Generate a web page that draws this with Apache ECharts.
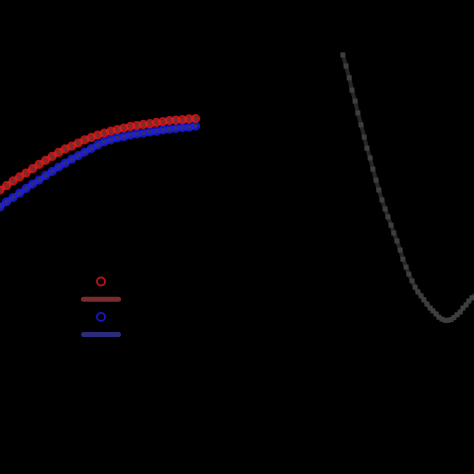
<!DOCTYPE html>
<html>
<head>
<meta charset="utf-8">
<script src="https://cdn.jsdelivr.net/npm/echarts@6/dist/echarts.min.js"></script>
<style>html,body{margin:0;padding:0;background:#000;}#c{width:474px;height:474px;}</style>
</head>
<body>
<div id="c"></div>
<script>
var xLeft = [0, 0.165, 0.33, 0.495, 0.66, 0.825, 0.99, 1.155, 1.32, 1.485, 1.65, 1.815, 1.98, 2.145, 2.31, 2.475, 2.64, 2.805, 2.97, 3.135, 3.3, 3.465, 3.63, 3.795, 3.96, 4.125, 4.29, 4.455, 4.62, 4.785, 4.95];
var redValues = [0.719, 0.730, 0.742, 0.752, 0.762, 0.773, 0.784, 0.794, 0.804, 0.814, 0.823, 0.830, 0.838, 0.846, 0.852, 0.858, 0.863, 0.868, 0.872, 0.876, 0.880, 0.882, 0.885, 0.887, 0.890, 0.892, 0.895, 0.896, 0.897, 0.899, 0.900];
var blueValues = [0.676, 0.689, 0.700, 0.711, 0.723, 0.734, 0.744, 0.756, 0.766, 0.777, 0.787, 0.797, 0.806, 0.815, 0.824, 0.833, 0.841, 0.846, 0.851, 0.854, 0.858, 0.861, 0.863, 0.866, 0.868, 0.871, 0.873, 0.875, 0.877, 0.878, 0.881];
var xRight = [8.68, 8.76, 8.84, 8.91, 8.99, 9.06, 9.14, 9.22, 9.29, 9.37, 9.44, 9.52, 9.59, 9.67, 9.75, 9.82, 9.90, 9.97, 10.05, 10.13, 10.20, 10.28, 10.35, 10.43, 10.51, 10.58, 10.66, 10.73, 10.81, 10.89, 10.96, 11.04, 11.11, 11.19, 11.27, 11.34, 11.42, 11.49, 11.57, 11.65, 11.72, 11.80, 11.87, 11.95, 12.03];
var grayValues = [1.061, 1.033, 1.003, 0.972, 0.944, 0.914, 0.884, 0.853, 0.825, 0.800, 0.772, 0.744, 0.719, 0.694, 0.671, 0.651, 0.630, 0.610, 0.590, 0.567, 0.544, 0.524, 0.506, 0.489, 0.473, 0.461, 0.451, 0.441, 0.430, 0.420, 0.413, 0.405, 0.397, 0.392, 0.389, 0.389, 0.391, 0.396, 0.403, 0.410, 0.420, 0.428, 0.438, 0.446, 0.456];
var seriesNames = ['Data 1', 'Fit 1', 'Data 2', 'Fit 2'];

function pairs(xs, ys) { return xs.map(function (x, i) { return [x, ys[i]]; }); }

var chart = echarts.init(document.getElementById('c'));
chart.setOption({
  backgroundColor: '#000',
  animation: false,
  grid: { left: 0, right: 0, top: 0, bottom: 0 },
  xAxis: { type: 'value', min: 0, max: 12, show: false },
  yAxis: { type: 'value', min: 0, max: 1.2, show: false },
  legend: {
    orient: 'vertical', left: 81, top: 276.5, padding: 0, itemWidth: 35, itemHeight: 8, itemGap: 8.7,
    textStyle: { color: '#000', fontSize: 8, lineHeight: 8 },
    data: [
      { name: seriesNames[0] },
      { name: seriesNames[1], itemStyle: { opacity: 0 }, lineStyle: { width: 5, cap: 'round', color: '#7a2c2c' } },
      { name: seriesNames[2] },
      { name: seriesNames[3], itemStyle: { opacity: 0 }, lineStyle: { width: 5, cap: 'round', color: '#2c2c7a' } }
    ]
  },
  series: [
    { name: seriesNames[0], type: 'scatter', data: pairs(xLeft, redValues), symbol: 'circle', symbolSize: 7, z: 5,
      itemStyle: { color: 'transparent', borderColor: '#e01818', borderWidth: 2.2 } },
    { name: seriesNames[1], type: 'line', data: pairs(xLeft, redValues), showSymbol: false, symbol: 'none', z: 3,
      lineStyle: { color: '#7a2c2c', width: 5, cap: 'round' }, itemStyle: { color: '#7a2c2c' } },
    { name: seriesNames[2], type: 'scatter', data: pairs(xLeft, blueValues), symbol: 'circle', symbolSize: 7, z: 4,
      itemStyle: { color: 'transparent', borderColor: '#1c1ce6', borderWidth: 2.2 } },
    { name: seriesNames[3], type: 'line', data: pairs(xLeft, blueValues), showSymbol: false, symbol: 'none', z: 2,
      lineStyle: { color: '#2c2c7a', width: 5, cap: 'round' }, itemStyle: { color: '#2c2c7a' } },
    { name: 'Curve', type: 'line', data: pairs(xRight, grayValues), symbol: 'rect', symbolSize: 5, showSymbol: true, z: 1,
      lineStyle: { color: '#262626', width: 4 }, itemStyle: { color: '#3e3e3e' } }
  ]
});
</script>
</body>
</html>
